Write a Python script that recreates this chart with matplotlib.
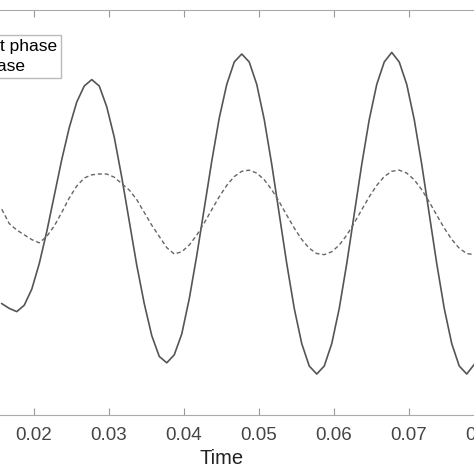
import matplotlib

matplotlib.use("Agg")
import matplotlib.pyplot as plt
import numpy as np

# sample times (s), 1 ms steps
TIME = [0.0477 + 0.001 * n for n in range(-32, 32)]

FAULT = [
    -0.56, -0.59, -0.61, -0.57, -0.47, -0.31, -0.11, 0.115, 0.34, 0.54, 0.70, 0.80,
    0.84, 0.80, 0.67, 0.48, 0.23, -0.045, -0.32, -0.56, -0.76, -0.89,
    -0.93, -0.88, -0.75, -0.53, -0.26, 0.035, 0.33, 0.60, 0.81, 0.95,
    1.0, 0.95, 0.81, 0.59, 0.31, 0.0, -0.31, -0.59, -0.81, -0.95,
    -1.0, -0.95, -0.81, -0.59, -0.31, 0.0, 0.31, 0.59, 0.81, 0.95,
    1.01, 0.95, 0.81, 0.59, 0.31, 0.0, -0.31, -0.59, -0.81, -0.95,
    -1.0, -0.94,
]

NONFAULT = [
    0.03, -0.06, -0.10, -0.13, -0.16, -0.18, -0.14, -0.075, 0.01, 0.10, 0.175, 0.225,
    0.245, 0.25, 0.25, 0.23, 0.19, 0.15, 0.09, 0.01, -0.07, -0.14,
    -0.21, -0.25, -0.236, -0.194, -0.132, -0.056, 0.027, 0.108, 0.179, 0.234,
    0.267, 0.274, 0.256, 0.214, 0.152, 0.076, -0.007, -0.088, -0.159, -0.214,
    -0.247, -0.254, -0.236, -0.194, -0.132, -0.056, 0.027, 0.108, 0.179, 0.234,
    0.267, 0.274, 0.256, 0.214, 0.152, 0.076, -0.007, -0.088, -0.159, -0.214,
    -0.247, -0.254,
]

X_TICKS = [0.01, 0.02, 0.03, 0.04, 0.05, 0.06, 0.07, 0.08, 0.09]
LABELS = ["Non-fault phase", "Fault phase"]

plt.rcParams["font.family"] = ["Liberation Sans", "DejaVu Sans"]

fig = plt.figure(figsize=(4.74, 4.74), dpi=100)
# the reference is a crop: the axes run past the left and right edges
ax = fig.add_axes([-0.2447, 0.1245, 1.424, 0.8544])
ax.plot(TIME, FAULT, color="#555555", linewidth=1.2, label=LABELS[0],
        solid_joinstyle="round")
ax.plot(TIME, NONFAULT, color="#666666", linewidth=1.0, linestyle=(0, (3, 2)),
        label=LABELS[1])

ax.set_xlim(0.0, 0.09)
ax.set_ylim(-1.256, 1.275)
ax.set_xticks(X_TICKS, [f"{t:g}" for t in X_TICKS])
ax.set_yticks([])
ax.tick_params(axis="x", direction="in", top=True, length=5, color="#999999",
               labelsize=13.5, labelcolor="#444444", pad=9)
for sp in ax.spines.values():
    sp.set_color("#aaaaaa")
ax.set_xlabel("Time", fontsize=14.5, color="#222222", labelpad=3)

fig.legend(loc="upper right", bbox_to_anchor=(70 / 474, 1 - 26 / 474),
           bbox_transform=fig.transFigure, fontsize=12.5, frameon=True,
           fancybox=False, edgecolor="#aaaaaa", borderpad=0.25, labelspacing=0.25,
           handlelength=2.2)

fig.savefig("out.png", dpi=100)
